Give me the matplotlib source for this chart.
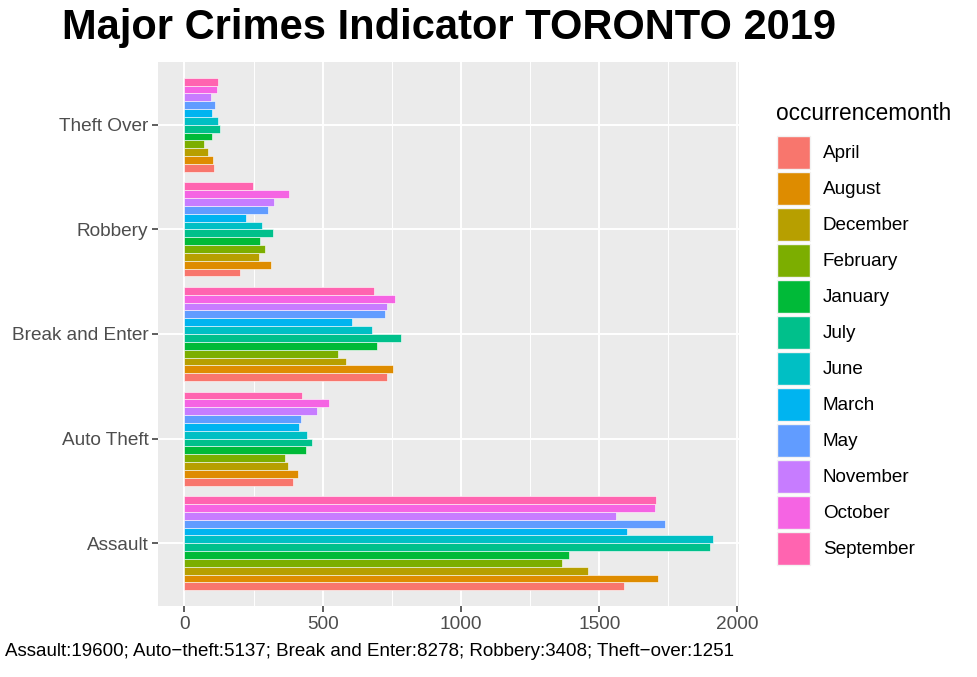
import matplotlib
matplotlib.use("Agg")
import matplotlib.pyplot as plt
from matplotlib.patches import Rectangle
import numpy as np

plt.rcParams['font.family'] = ['Liberation Sans', 'DejaVu Sans']

crimes = ['Assault', 'Auto Theft', 'Break and Enter', 'Robbery', 'Theft Over']
months = ['April', 'August', 'December', 'February', 'January', 'July',
          'June', 'March', 'May', 'November', 'October', 'September']
colors = ['#F8766D', '#DE8C00', '#B79F00', '#7CAE00', '#00BA38', '#00C08B',
          '#00BFC4', '#00B4F0', '#619CFF', '#C77CFF', '#F564E3', '#FF64B0']

# counts per month (same order as months), one list per crime
assault = [1588, 1714, 1459, 1367, 1392, 1900, 1910, 1601, 1737, 1561, 1703, 1706]
auto_theft = [393, 411, 374, 365, 440, 462, 442, 415, 423, 480, 522, 427]
break_enter = [732, 756, 583, 557, 698, 783, 677, 606, 726, 732, 762, 686]
robbery = [202, 313, 269, 291, 272, 320, 279, 224, 303, 325, 377, 248]
theft_over = [106, 105, 87, 71, 101, 129, 120, 99, 112, 95, 119, 121]

totals_text = "Assault:19600; Auto\u2212theft:5137; Break and Enter:8278; Robbery:3408; Theft\u2212over:1251"

W, H = 977, 677
fig = plt.figure(figsize=(W / 100, H / 100), dpi=100)

def fx(px):
    return px / W

def fy(py):
    return 1 - py / H

left, right, top, bottom = 158, 739, 62, 606
ax = fig.add_axes([fx(left), fy(bottom), fx(right - left), (bottom - top) / H])
ax.set_facecolor('#EBEBEB')

data = np.array([assault, auto_theft, break_enter, robbery, theft_over])
n = len(months)
bw = 0.9 / n
ypos = np.arange(1, len(crimes) + 1)
for j, m in enumerate(months):
    off = -0.45 + bw * (j + 0.5)
    ax.barh(ypos + off, data[:, j], height=bw, color=colors[j],
            edgecolor='white', linewidth=0.4, zorder=3)

vmax = data.max()
ax.set_xlim(-0.05 * vmax, 1.05 * vmax)
ax.set_ylim(0.4, len(crimes) + 0.6)

ax.set_xticks([0, 500, 1000, 1500, 2000])
ax.set_xticks([250, 750, 1250, 1750], minor=True)
ax.set_yticks(ypos)
ax.set_yticklabels(crimes)
ax.grid(which='major', color='white', linewidth=1.4, zorder=1)
ax.grid(which='minor', axis='x', color='white', linewidth=0.7, zorder=1)
for s in ax.spines.values():
    s.set_visible(False)
ax.tick_params(which='major', length=4, width=1.1, color='#333333',
               labelsize=13.7, labelcolor='#4D4D4D', pad=3)
ax.tick_params(which='minor', length=0)

fig.text(fx(449), fy(28), 'Major Crimes Indicator TORONTO 2019',
         ha='center', va='center', fontsize=30, fontweight='bold')
fig.text(fx(5), fy(651), totals_text, ha='left', va='center', fontsize=13.5)

# legend
fig.text(fx(776), fy(114), 'occurrencemonth', ha='left', va='center', fontsize=16.3)
for j, m in enumerate(months):
    y0 = 136 + 36 * j
    fig.add_artist(Rectangle((fx(777), fy(y0 + 33)), fx(33), 33 / H,
                             transform=fig.transFigure, facecolor=colors[j],
                             edgecolor='#F2F2F2', linewidth=1))
    fig.text(fx(823), fy(y0 + 18), m, ha='left', va='center', fontsize=13.6)

fig.savefig('out.png', dpi=100)
